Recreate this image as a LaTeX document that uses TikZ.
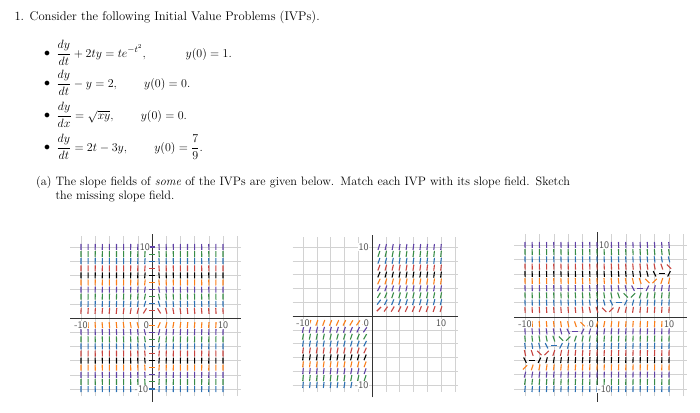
\documentclass[tikz,border=0pt]{standalone}
\definecolor{c0}{HTML}{000000}
\definecolor{c1}{HTML}{C74440}
\definecolor{c2}{HTML}{2D70B3}
\definecolor{c3}{HTML}{388C46}
\definecolor{c4}{HTML}{6042A6}
\definecolor{c5}{HTML}{FA7E19}
\tikzset{seg/.style={line width=1.1pt}, gridl/.style={gray!35, line width=0.5pt}, axl/.style={line width=0.8pt, black!80}, tick/.style={font=\fontsize{10}{10}\selectfont\sffamily, text=black!70, fill=white, inner sep=0.5pt}}
\newcommand\axesbox[2]{%
  \draw[gridl] (-11.5,-11) grid[step=2] (12.5,11.5);
  \draw[axl] (-11.5,0) -- (12.5,0);
  \draw[axl] (0,-11.8) -- (0,11.8);
}
\newcommand\putseg[3]{% x y angle
  \pgfmathtruncatemacro\ci{mod(#2+60,6)}%
  \draw[seg, color=c\ci] (#1,#2) ++(#3:-3pt) -- ++(#3:6pt);
}
\begin{document}
\begin{tikzpicture}[x=1pt,y=1pt]
\useasboundingbox (0,0) rectangle (700,412);
\fill[white] (0,0) rectangle (700,412);
\begin{scope}[font=\fontsize{12.6}{14.5}\selectfont]
\node[anchor=west] (title) at (11,395) {1. Consider the following Initial Value Problems (IVPs).};
\node (b1) at (47,358) {$\bullet$};
\node[anchor=west] (e1) at (53,359) {$\displaystyle\frac{dy}{dt}+2ty=te^{-t^2},\qquad\quad y(0)=1.$};
\node (b2) at (47,328) {$\bullet$};
\node[anchor=west] (e2) at (53,329) {$\displaystyle\frac{dy}{dt}-y=2,\qquad y(0)=0.$};
\node (b3) at (47,296) {$\bullet$};
\node[anchor=west] (e3) at (53,297) {$\displaystyle\frac{dy}{dx}=\sqrt{xy},\qquad y(0)=0.$};
\node (b4) at (47,264) {$\bullet$};
\node[anchor=west] (e4) at (53,265) {$\displaystyle\frac{dy}{dt}=2t-3y,\qquad y(0)=\frac{7}{9}.$};
\node[anchor=north west, text width=640pt, align=left, inner sep=0pt, font=\fontsize{12.2}{14}\selectfont] (pa) at (36,236) {(a)\ The slope fields of \emph{some} of the IVPs are given below. Match each IVP with its slope field. Sketch\\\hphantom{(a)\ }the missing slope field.};
\end{scope}
% plot 1
\begin{scope}[shift={(152,94)}, x=7.1pt, y=7.1pt]
\axesbox{}{}
\foreach \yy in {-10,...,10}{\foreach \xx in {-10,...,10}{
  \ifnum\yy=0\else
  \pgfmathsetmacro\ang{atan(\xx*exp(-min(\xx*\xx,20))-2*\xx*\yy)}
  \putseg{\xx}{\yy}{\ang}\fi}}
\node[tick] (l1a) at (-10,-1) {-10};
\node[tick] (l1b) at (10,-1) {10};
\node[tick] (l1c) at (-1,10) {10};
\node[tick] (l1d) at (-1.5,-10) {-10};
\node[tick] (l1e) at (-0.8,-1) {0};
\end{scope}
% plot 2
\begin{scope}[shift={(372,96)}, x=6.9pt, y=6.9pt]
\axesbox{}{}
\foreach \yy in {1,...,10}{\foreach \xx in {1,...,10}{
  \pgfmathsetmacro\ang{atan(sqrt(\xx*\yy))}
  \putseg{\xx}{\yy}{\ang}}}
\foreach \yy in {-10,...,-1}{\foreach \xx in {-10,...,-1}{
  \pgfmathsetmacro\ang{atan(sqrt(\xx*\yy))}
  \putseg{\xx}{\yy}{\ang}}}
\node[tick] (l2a) at (-10,-1) {-10};
\node[tick] (l2b) at (10,-1) {10};
\node[tick] (l2c) at (-1.2,10) {10};
\node[tick] (l2d) at (-1.5,-10) {-10};
\node[tick] (l2e) at (-0.8,-1) {0};
\end{scope}
% plot 3
\begin{scope}[shift={(597,95)}, x=7.2pt, y=7.2pt]
\axesbox{}{}
\foreach \yy in {-10,...,10}{\foreach \xx in {-10,...,10}{
  \ifnum\yy=0\else
  \pgfmathsetmacro\ang{atan(2*\xx-3*\yy)}
  \putseg{\xx}{\yy}{\ang}\fi}}
\node[tick] (l3a) at (-10,-1) {-10};
\node[tick] (l3b) at (10,-1) {10};
\node[tick] (l3c) at (1,10) {10};
\node[tick] (l3d) at (1,-10) {-10};
\node[tick] (l3e) at (-0.8,-1) {0};
\end{scope}
\end{tikzpicture}
\end{document}
